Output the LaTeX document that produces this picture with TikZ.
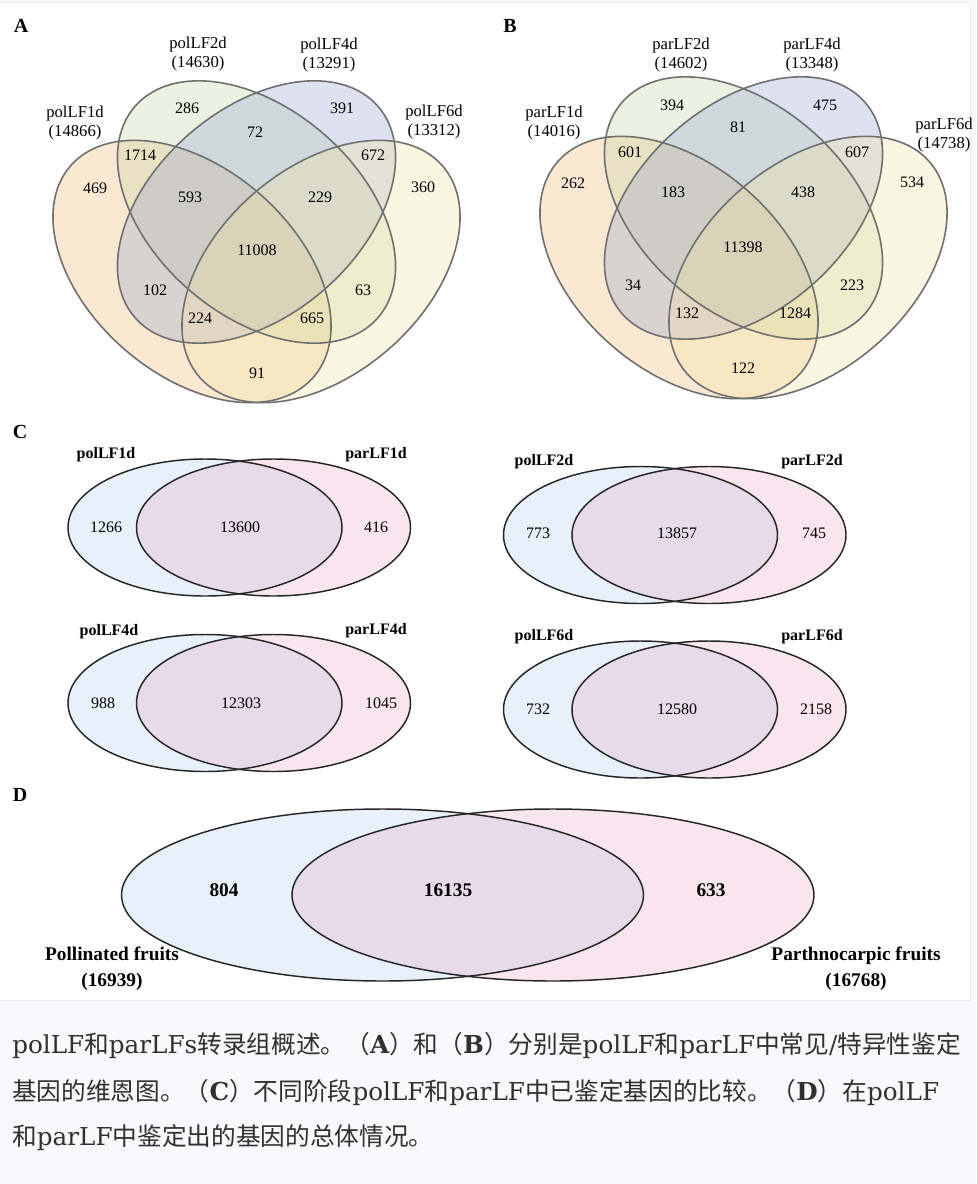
\documentclass[tikz,border=0pt]{standalone}
\usepackage{fontspec}
\setmainfont{Liberation Serif}
\newfontfamily\capfont{DejaVu Serif}
\newfontfamily\zhfont{Noto Sans CJK SC}
\newcommand{\la}[1]{{\capfont #1}}
\definecolor{OneClr}{RGB}{242,182,108}
\definecolor{TwoClr}{RGB}{191,215,160}
\definecolor{FourClr}{RGB}{144,158,208}
\definecolor{SixClr}{RGB}{245,228,160}
\definecolor{PolClr}{RGB}{167,199,235}
\definecolor{ParClr}{RGB}{231,155,187}
\definecolor{LineClr}{RGB}{112,112,112}
\definecolor{CapClr}{RGB}{48,48,48}
\definecolor{PageClr}{RGB}{249,249,252}

\begin{document}
\begin{tikzpicture}[x=0.75pt,y=-0.75pt,
  vennfill/.style={fill opacity=0.3},
  vennline/.style={draw=LineClr,line width=1.2pt},
  twofill/.style={fill opacity=0.25},
  twoline/.style={draw=black!85,line width=1.1pt},
  num/.style={font=\fontsize{12}{14}\selectfont,inner sep=1pt},
  setlabel/.style={font=\fontsize{12.5}{14.5}\selectfont,align=center,inner sep=1pt},
  clabel/.style={font=\bfseries\fontsize{12}{14}\selectfont,inner sep=1pt},
  dnum/.style={font=\bfseries\fontsize{14.5}{17}\selectfont,inner sep=1pt},
  dlabel/.style={font=\bfseries\fontsize{14.5}{19.5}\selectfont,align=center,inner sep=1pt},
  panel/.style={font=\bfseries\fontsize{15}{17}\selectfont,inner sep=0pt},
  capline/.style={font=\zhfont\fontsize{18.5}{22}\selectfont,text=CapClr,anchor=west,inner sep=0pt}]
\useasboundingbox (0,0) rectangle (976,1184);
\fill[PageClr] (0,0) rectangle (976,1184);
\fill[white,draw=black!8] (-1,2) rectangle (970,1000);

% A
\coordinate (O1) at (192,271.5);
\coordinate (O2) at (256.5,212);
\coordinate (O4) at (321,271.5);
\fill[OneClr,vennfill,rotate around={-41:(O1)}] (O1) ellipse [x radius=161,y radius=103];
\fill[TwoClr,vennfill,rotate around={-41:(O2)}] (O2) ellipse [x radius=161,y radius=103];
\fill[FourClr,vennfill,rotate around={41:(O2)}] (O2) ellipse [x radius=161,y radius=103];
\fill[SixClr,vennfill,rotate around={41:(O4)}] (O4) ellipse [x radius=161,y radius=103];
\draw[vennline,rotate around={-41:(O1)}] (O1) ellipse [x radius=161,y radius=103];
\draw[vennline,rotate around={-41:(O2)}] (O2) ellipse [x radius=161,y radius=103];
\draw[vennline,rotate around={41:(O2)}] (O2) ellipse [x radius=161,y radius=103];
\draw[vennline,rotate around={41:(O4)}] (O4) ellipse [x radius=161,y radius=103];

\node[panel] (A) at (21,26) {A};
\node[setlabel] (polLF1d) at (75,123) {polLF1d\\(14866)};
\node[setlabel] (polLF2d) at (198,54) {polLF2d\\(14630)};
\node[setlabel] (polLF4d) at (329,55) {polLF4d\\(13291)};
\node[setlabel] (polLF6d) at (434,122) {polLF6d\\(13312)};
\foreach \v/\px/\py [count=\i] in {286/187/108,391/342/108,72/255/132,1714/140/155,672/373/155,
  469/95/188,593/190/197,229/320/197,360/423/187,11008/257/250,
  102/155/290,63/363/290,224/200/318,665/312/318,91/257/373}
  \node[num] (a\i) at (\px,\py) {\v};

% B
\coordinate (P1) at (679,267.5);
\coordinate (P2) at (743.5,208);
\coordinate (P4) at (808,267.5);
\fill[OneClr,vennfill,rotate around={-41:(P1)}] (P1) ellipse [x radius=161,y radius=103];
\fill[TwoClr,vennfill,rotate around={-41:(P2)}] (P2) ellipse [x radius=161,y radius=103];
\fill[FourClr,vennfill,rotate around={41:(P2)}] (P2) ellipse [x radius=161,y radius=103];
\fill[SixClr,vennfill,rotate around={41:(P4)}] (P4) ellipse [x radius=161,y radius=103];
\draw[vennline,rotate around={-41:(P1)}] (P1) ellipse [x radius=161,y radius=103];
\draw[vennline,rotate around={-41:(P2)}] (P2) ellipse [x radius=161,y radius=103];
\draw[vennline,rotate around={41:(P2)}] (P2) ellipse [x radius=161,y radius=103];
\draw[vennline,rotate around={41:(P4)}] (P4) ellipse [x radius=161,y radius=103];

\node[panel] (B) at (510,26) {B};
\node[setlabel] (parLF1d) at (554,123) {parLF1d\\(14016)};
\node[setlabel] (parLF2d) at (681,55) {parLF2d\\(14602)};
\node[setlabel] (parLF4d) at (812,55) {parLF4d\\(13348)};
\node[setlabel] (parLF6d) at (944,135) {parLF6d\\(14738)};
\foreach \v/\px/\py [count=\i] in {394/672/105,475/825/105,81/738/127,601/630/152,607/857/152,
  262/573/183,183/673/192,438/803/192,534/912/182,11398/743/247,
  34/633/285,223/852/285,132/687/313,1284/795/313,122/743/368}
  \node[num] (b\i) at (\px,\py) {\v};

% C
\node[panel] (C) at (20,432) {C};
\foreach \cx/\cy in {205/527.5,640.5/535,205/703,640.5/709.5}{
  \fill[PolClr,twofill] (\cx,\cy) ellipse [x radius=137,y radius=68.5];
  \fill[ParClr,twofill] (\cx+68.5,\cy) ellipse [x radius=137,y radius=68.5];
  \draw[twoline] (\cx,\cy) ellipse [x radius=137,y radius=68.5];
  \draw[twoline] (\cx+68.5,\cy) ellipse [x radius=137,y radius=68.5];
}
\node[clabel] (pol1) at (106,455) {polLF1d};
\node[clabel] (par1) at (376,455) {parLF1d};
\node[clabel] (pol2) at (544,462) {polLF2d};
\node[clabel] (par2) at (812,462) {parLF2d};
\node[clabel] (pol4) at (109,632) {polLF4d};
\node[clabel] (par4) at (376,631) {parLF4d};
\node[clabel] (pol6) at (544,637) {polLF6d};
\node[clabel] (par6) at (812,637) {parLF6d};
\foreach \v/\px/\py [count=\i] in {1266/106/527,13600/240/527,416/376/527,
  773/538/533,13857/677/533,745/814/533,988/103/703,12303/241/703,1045/381/703,
  732/538/709,12580/677/709,2158/816/709}
  \node[num] (c\i) at (\px,\py) {\v};

% D
\node[panel] (D) at (20,795) {D};
\fill[PolClr,twofill] (382.5,895) ellipse [x radius=261,y radius=86];
\fill[ParClr,twofill] (553,895) ellipse [x radius=261,y radius=86];
\draw[twoline] (382.5,895) ellipse [x radius=261,y radius=86];
\draw[twoline] (553,895) ellipse [x radius=261,y radius=86];
\node[dnum] (d1) at (224,890) {804};
\node[dnum] (d2) at (448,890) {16135};
\node[dnum] (d3) at (711,890) {633};
\node[dlabel] (pol) at (112,969) {Pollinated fruits\\(16939)};
\node[dlabel] (par) at (856,969) {Parthnocarpic fruits\\(16768)};

% caption
\node[capline] (cap1) at (12,1045) {\la{polLF}和\la{parLFs}转录组概述。（\la{\bfseries A}）和（\la{\bfseries B}）分别是\la{polLF}和\la{parLF}中常见\la{/}特异性鉴定};
\node[capline] (cap2) at (12,1092) {基因的维恩图。（\la{\bfseries C}）不同阶段\la{polLF}和\la{parLF}中已鉴定基因的比较。（\la{\bfseries D}）在\la{polLF}};
\node[capline] (cap3) at (12,1138) {和\la{parLF}中鉴定出的基因的总体情况。};
\end{tikzpicture}
\end{document}
